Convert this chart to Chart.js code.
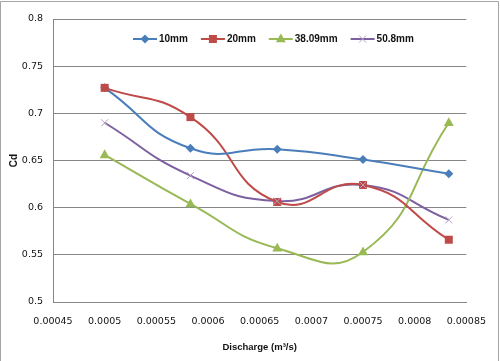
<!DOCTYPE html>
<html lang="en">
<head>
<meta charset="UTF-8">
<title>Cd vs Discharge</title>
<script src="https://cdn.jsdelivr.net/npm/chart.js@4.4.0/dist/chart.umd.min.js"></script>
<style>
    html, body { margin: 0; padding: 0; background: #fff; }
    #wrap { width: 500px; height: 361px; }
</style>
</head>
<body>
<div id="wrap"><canvas id="cdChart" width="500" height="361"></canvas></div>
<script>
// data
const discharge = [0.0005, 0.000583, 0.000667, 0.00075, 0.000833];
const cd10mm = [0.727, 0.663, 0.662, 0.651, 0.636];
const cd20mm = [0.727, 0.696, 0.606, 0.624, 0.566];
const cd3809mm = [0.656, 0.604, 0.557, 0.553, 0.690];
const cd508mm = [0.690, 0.634, 0.607, 0.624, 0.587];
const seriesNames = ['10mm', '20mm', '38.09mm', '50.8mm'];
const xTickLabels = ['0.00045', '0.0005', '0.00055', '0.0006', '0.00065', '0.0007', '0.00075', '0.0008', '0.00085'];
const yTickLabels = ['0.5', '0.55', '0.6', '0.65', '0.7', '0.75', '0.8'];

const seriesValues = [cd10mm, cd20mm, cd3809mm, cd508mm];
const colors = ['#4a7ebb', '#be4b48', '#98b954', '#7d60a0'];
const markers = ['rectRot', 'rect', 'triangle', 'crossRot'];
const markerSize = [4.5, 5, 5.5, 5];

function toPoints(values) {
    return values.map((v, i) => ({ x: discharge[i], y: v }));
}

function drawMarker(ctx, style, x, y, r, color) {
    ctx.save();
    ctx.fillStyle = color;
    ctx.strokeStyle = color;
    ctx.beginPath();
    if (style === 'rectRot') {
        ctx.moveTo(x, y - r); ctx.lineTo(x + r, y); ctx.lineTo(x, y + r); ctx.lineTo(x - r, y);
        ctx.closePath(); ctx.fill();
    } else if (style === 'rect') {
        ctx.rect(x - r * 0.8, y - r * 0.8, r * 1.6, r * 1.6); ctx.fill();
    } else if (style === 'triangle') {
        ctx.moveTo(x, y - r); ctx.lineTo(x + r * 0.9, y + r * 0.6); ctx.lineTo(x - r * 0.9, y + r * 0.6);
        ctx.closePath(); ctx.fill();
    } else {
        ctx.strokeStyle = '#b3a2c7';
        ctx.lineWidth = 1;
        ctx.moveTo(x - r * 0.7, y - r * 0.7); ctx.lineTo(x + r * 0.7, y + r * 0.7);
        ctx.moveTo(x + r * 0.7, y - r * 0.7); ctx.lineTo(x - r * 0.7, y + r * 0.7);
        ctx.stroke();
    }
    ctx.restore();
}

const framePlugin = {
    id: 'frame',
    beforeDraw(chart) {
        const ctx = chart.ctx;
        ctx.save();
        ctx.fillStyle = '#fff';
        ctx.fillRect(0, 0, chart.width, chart.height);
        ctx.restore();
    },
    afterDraw(chart) {
        const ctx = chart.ctx;
        ctx.save();
        // outer frame (no bottom edge in the picture)
        ctx.strokeStyle = '#a6a6a6';
        ctx.lineWidth = 1;
        ctx.beginPath();
        ctx.moveTo(0.5, 361); ctx.lineTo(0.5, 1.5); ctx.lineTo(498.5, 1.5); ctx.lineTo(498.5, 361);
        ctx.stroke();

        // legend: line + marker + label
        ctx.font = 'bold 10px "Liberation Sans"';
        ctx.textBaseline = 'middle';
        let lx = 133;
        const ly = 39;
        chart.data.datasets.forEach((ds, i) => {
            ctx.strokeStyle = colors[i];
            ctx.lineWidth = 2;
            ctx.beginPath();
            ctx.moveTo(lx, ly); ctx.lineTo(lx + 24, ly);
            ctx.stroke();
            drawMarker(ctx, markers[i], lx + 12, ly, markerSize[i], colors[i]);
            ctx.fillStyle = '#111';
            ctx.fillText(ds.label, lx + 26, ly);
            lx += 26 + ctx.measureText(ds.label).width + 13;
        });
        ctx.restore();
    }
};

// custom point drawing so markers look like the Excel ones
const markerPlugin = {
    id: 'markers',
    afterDatasetsDraw(chart) {
        const ctx = chart.ctx;
        chart.data.datasets.forEach((ds, i) => {
            const meta = chart.getDatasetMeta(i);
            meta.data.forEach(pt => drawMarker(ctx, markers[i], pt.x, pt.y, markerSize[i], colors[i]));
        });
    }
};

new Chart(document.getElementById('cdChart'), {
    type: 'line',
    data: {
        datasets: seriesNames.map((name, i) => ({
            label: name,
            data: toPoints(seriesValues[i]),
            borderColor: colors[i],
            backgroundColor: colors[i],
            borderWidth: 2,
            tension: 0.5,
            pointRadius: 0,
            fill: false
        }))
    },
    options: {
        responsive: false,
        animation: false,
        layout: { padding: { top: 19, right: 32, left: 0, bottom: 0 } },
        plugins: {
            legend: { display: false },
            tooltip: { enabled: false }
        },
        scales: {
            x: {
                type: 'linear',
                min: 0.00045,
                max: 0.00085,
                afterFit: s => { s.height = 59; },
                afterBuildTicks: s => { s.ticks = xTickLabels.map(l => ({ value: parseFloat(l) })); },
                ticks: {
                    padding: 14,
                    maxRotation: 0,
                    autoSkip: false,
                    color: '#111',
                    font: { family: '"DejaVu Sans"', size: 9.5 },
                    callback: (v, i) => xTickLabels[i]
                },
                grid: { display: false, drawTicks: false },
                border: { display: true, color: '#868686', width: 1 },
                title: {
                    display: true,
                    text: 'Discharge (m³/s)',
                    color: '#111',
                    font: { family: '"Liberation Sans"', size: 9.5, weight: 'bold' },
                    padding: { top: 9, bottom: 8 }
                }
            },
            y: {
                min: 0.5,
                max: 0.8,
                afterFit: s => { s.width = 53; },
                afterBuildTicks: s => { s.ticks = yTickLabels.map(l => ({ value: parseFloat(l) })); },
                ticks: {
                    padding: 10,
                    color: '#111',
                    font: { family: '"DejaVu Sans"', size: 9.5 },
                    callback: (v, i) => yTickLabels[i]
                },
                grid: { color: '#868686', drawTicks: false },
                border: { display: true, color: '#868686', width: 1 },
                title: {
                    display: true,
                    text: 'Cd',
                    color: '#111',
                    font: { family: '"Liberation Sans"', size: 10, weight: 'bold' },
                    padding: { top: 8, bottom: 0 }
                }
            }
        }
    },
    plugins: [framePlugin, markerPlugin]
});
</script>
</body>
</html>
